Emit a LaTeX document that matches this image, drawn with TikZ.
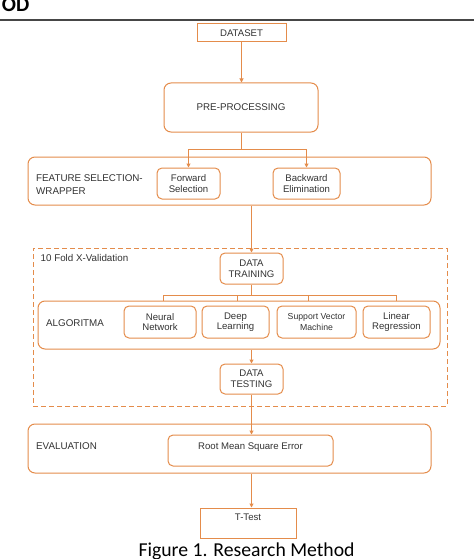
\documentclass[tikz,border=0pt]{standalone}
\usepackage{fontspec}
\setmainfont{Liberation Sans}
\newfontfamily\capfont{Carlito}
\usetikzlibrary{arrows.meta}
\definecolor{org}{RGB}{228,140,75}
\definecolor{txt}{RGB}{50,50,50}
\definecolor{rule}{RGB}{70,70,70}
\tikzset{
  box/.style={draw=org, line width=1pt, rounded corners=5pt, align=center,
    font=\fontsize{9.6}{10.6}\selectfont, text=txt, inner sep=0pt},
  sbox/.style={box, rounded corners=0pt},
  frame/.style={draw=org, line width=1pt, rounded corners=7pt, inner sep=0pt},
  dframe/.style={draw=org, line width=1pt, dashed, dash pattern=on 5pt off 3pt, inner sep=0pt},
  lbl/.style={anchor=west, align=left, font=\fontsize{9.8}{12.8}\selectfont, text=txt, inner sep=0pt},
  ln/.style={draw=org, line width=1pt},
  arr/.style={ln, -{Triangle[length=4pt,width=4pt]}}
}
\begin{document}
\begin{tikzpicture}[x=1pt,y=-1pt]
\useasboundingbox (0,0) rectangle (474,559);
% header remnant
\node[anchor=base east, inner sep=0pt, font=\capfont\bfseries\fontsize{21}{24}\selectfont] (hd) at (29.5,12) {OD};
\draw[rule, line width=1.7pt] (0,20) coordinate (r1) -- (474,20) coordinate (r2);

% containers
\node[frame, minimum width=403pt, minimum height=48pt] (feat) at (229.5,181) {};
\node[dframe, minimum width=414pt, minimum height=158pt] (cv) at (240,327) {};
\node[frame, minimum width=402pt, minimum height=48pt] (algo) at (239,325) {};
\node[frame, minimum width=403pt, minimum height=49pt] (eval) at (229.5,448.5) {};

% container labels
\node[lbl] (featl) at (36,184.5) {FEATURE SELECTION-\\WRAPPER};
\node[lbl] (cvl) at (40.5,258) {10 Fold X-Validation};
\node[lbl] (algol) at (46,323) {ALGORITMA};
\node[lbl] (evall) at (36,446) {EVALUATION};

% boxes
\node[sbox, minimum width=89pt, minimum height=18pt] (data) at (241.5,33) {DATASET};
\node[box, minimum width=154pt, minimum height=49pt, rounded corners=7pt, font=\fontsize{9.8}{11}\selectfont] (pre) at (241,107.5) {PRE-PROCESSING};
\node[box, minimum width=63pt, minimum height=31pt] (fwd) at (188.5,183.5) {Forward\\Selection};
\node[box, minimum width=67pt, minimum height=31pt] (bwd) at (306.5,183.5) {Backward\\Elimination};
\node[box, minimum width=63pt, minimum height=31pt] (train) at (251.5,268.5) {DATA\\TRAINING};
\node[box, minimum width=72pt, minimum height=32pt] (nn) at (160,322) {Neural\\Network};
\node[box, minimum width=67pt, minimum height=32pt] (dl) at (235.5,322) {Deep\\Learning};
\node[box, minimum width=79pt, minimum height=32pt, font=\fontsize{8.7}{10.6}\selectfont] (svm) at (316.5,322) {Support Vector\\Machine};
\node[box, minimum width=67pt, minimum height=32pt] (lr) at (396.5,322) {Linear\\Regression};
\node[box, minimum width=63pt, minimum height=30pt] (test) at (251.5,379) {DATA\\TESTING};
\node[box, minimum width=165pt, minimum height=31pt, text height=6.5pt, text depth=9.5pt] (rmse) at (250.5,450.5) {Root Mean Square Error};
\node[sbox, minimum width=96pt, minimum height=30pt, text height=6.5pt, text depth=12.5pt] (tt) at (248,523) {T-Test};

% caption
\node[anchor=base, inner sep=0pt, font=\capfont\fontsize{19.7}{22}\selectfont] (cap) at (246.5,556) {Figure 1. Research Method};

% connectors
\draw[arr] (data.south) -- (data.south |- pre.north);
\coordinate (j1) at (241,149);
\draw[ln] (pre.south) -- (j1);
\draw[arr] (j1) -| (fwd.north);
\draw[arr] (j1) -| (bwd.north);
\draw[arr] (train.north |- feat.south) -- (train.north);
\coordinate (j2) at (251.5,295);
\coordinate (b1) at (163,295);
\coordinate (b2) at (237,295);
\coordinate (b3) at (308,295);
\coordinate (b4) at (396,295);
\draw[ln] (train.south) -- (j2);
\draw[ln] (b1) -- (b4);
\draw[ln] (b1) -- (b1 |- algo.north);
\draw[ln] (b2) -- (b2 |- algo.north);
\draw[ln] (b3) -- (b3 |- algo.north);
\draw[ln] (b4) -- (b4 |- algo.north);
\draw[arr] (test.north |- algo.south) -- (test.north);
\draw[arr] (test.south) -- (test.south |- rmse.north);
\draw[arr] (test.south |- eval.south) -- (test.south |- tt.north);
\end{tikzpicture}
\end{document}
